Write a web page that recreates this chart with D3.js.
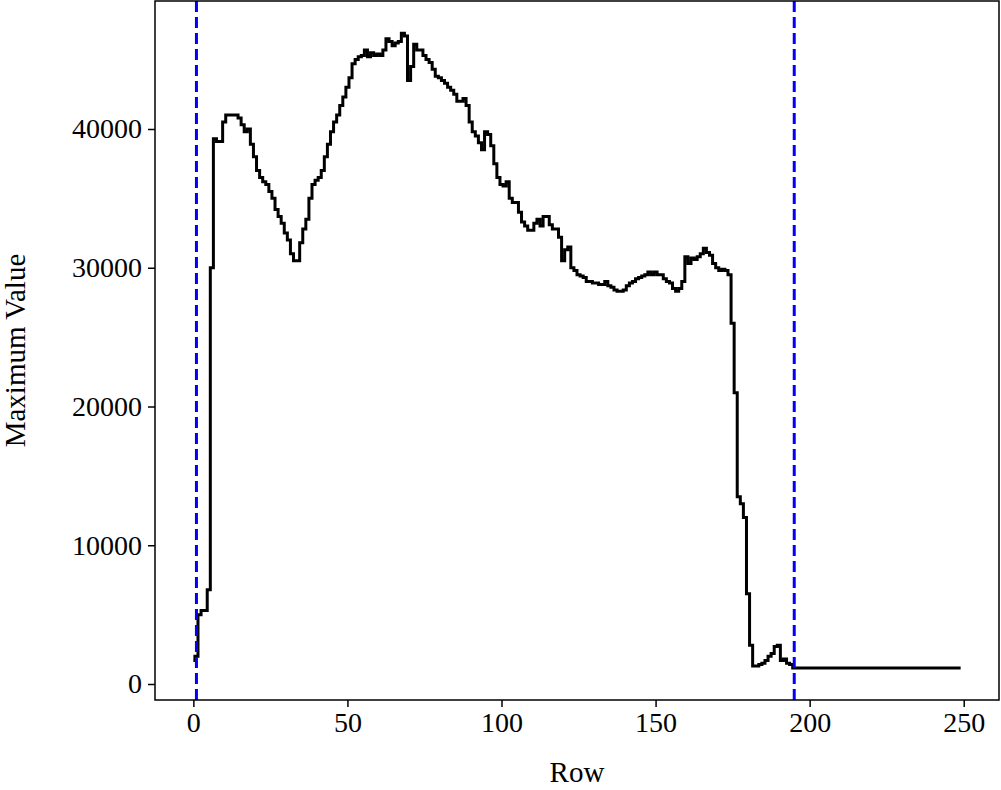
<!DOCTYPE html>
<html><head><meta charset="utf-8">
<script src="https://cdn.jsdelivr.net/npm/d3@7"></script>
<style>body{margin:0;background:#fff}</style></head>
<body><svg id="c" width="1001" height="790"></svg>
<script>
const maxValues = [1700,2000,5000,5300,5300,6800,30000,39300,39100,39100,40500,41000,41000,41000,41000,40800,40300,39800,40000,38900,
38000,37000,36500,36200,36000,35500,35000,34200,33700,33200,32500,32000,31000,30500,30500,31800,32800,33500,35000,36000,
36300,36500,37000,38000,38900,39800,40500,41000,41700,42300,43000,43700,44700,45000,45200,45300,45700,45200,45500,45300,
45400,45300,45700,46500,46300,46000,46200,46300,46900,46700,43500,44500,46100,45700,45700,45300,45000,44800,44300,43800,
43700,43500,43300,43000,42800,42500,42000,42000,42200,41700,40500,39800,39500,39000,38500,39800,39600,38800,37500,36500,
36000,35900,36200,35000,34700,34700,34000,33300,33000,32700,32700,33200,33500,33000,33700,33700,33100,32800,32800,32200,
30500,31300,31500,30000,29800,29500,29400,29300,29000,29000,28900,28900,28800,28800,29000,28700,28600,28400,28300,28300,
28400,28700,28900,29000,29200,29300,29400,29500,29700,29500,29700,29500,29500,29200,29000,28900,28500,28300,28500,29000,
30800,30300,30700,30600,30800,31000,31400,31100,30900,30300,30000,29800,29900,29800,29500,26000,21000,13500,13000,12000,
6500,2800,1300,1300,1400,1500,1700,2000,2200,2700,2800,1700,1800,1500,1400,1150,1150,1150,1150,1150,
1150,1150,1150,1150,1150,1150,1150,1150,1150,1150,1150,1150,1150,1150,1150,1150,1150,1150,1150,1150,
1150,1150,1150,1150,1150,1150,1150,1150,1150,1150,1150,1150,1150,1150,1150,1150,1150,1150,1150,1150,
1150,1150,1150,1150,1150,1150,1150,1150,1150,1150];
const boundaries = [1,195];
const xTicks = [0,50,100,150,200,250];
const yTicks = [0,10000,20000,30000,40000];

const svg = d3.select("#c");
const L=155,R=999,T=1,B=700;
const x = d3.scaleLinear().domain([-12.45,261.45]).range([L,R]);
const y = d3.scaleLinear().domain([-1153,49225]).range([B,T]);
const font = "Liberation Serif, Times New Roman, serif";

const line = d3.line().x((d,i)=>x(i)).y(d=>y(d)).curve(d3.curveStep);
svg.append("path").datum(maxValues).attr("d",line).attr("fill","none")
  .attr("stroke","#000").attr("stroke-width",3);

boundaries.forEach(b=>svg.append("line").attr("x1",x(b)).attr("x2",x(b)).attr("y1",T).attr("y2",B)
  .attr("stroke","#0000ff").attr("stroke-width",3).attr("stroke-dasharray","11,5"));

svg.append("rect").attr("x",L).attr("y",T).attr("width",R-L).attr("height",B-T)
  .attr("fill","none").attr("stroke","#000").attr("stroke-width",1.5);

const xa = svg.append("g").attr("transform",`translate(0,${B})`)
  .call(d3.axisBottom(x).tickValues(xTicks).tickSize(7).tickPadding(5));
const ya = svg.append("g").attr("transform",`translate(${L},0)`)
  .call(d3.axisLeft(y).tickValues(yTicks).tickSize(7).tickPadding(6).tickFormat(d3.format("d")));
[xa,ya].forEach(a=>{a.select(".domain").remove();
  a.selectAll("line").attr("stroke-width",1.5);
  a.selectAll("text").attr("font-family",font).attr("font-size",28).attr("fill","#000");});

svg.append("text").attr("x",(L+R)/2).attr("y",782).attr("text-anchor","middle")
  .attr("font-family",font).attr("font-size",29).text("Row");
svg.append("text").attr("transform",`translate(25,${(T+B)/2}) rotate(-90)`).attr("text-anchor","middle")
  .attr("font-family",font).attr("font-size",29).text("Maximum Value");
</script></body></html>
